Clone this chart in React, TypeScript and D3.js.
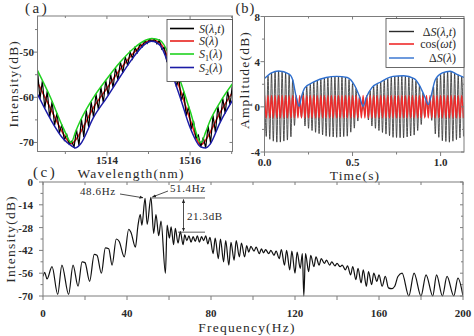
import React from "react";
import * as d3 from "d3";

// ---------- Panel (a) data ----------
const lambdaA = [1512.33, 1512.64, 1512.96, 1513.14, 1513.25, 1513.36, 1513.68, 1514.0, 1514.32, 1514.64, 1514.88, 1515.08, 1515.28, 1515.52, 1515.76, 1516.0, 1516.26, 1516.38, 1516.48, 1516.72, 1517.02];
const s1A = [-54.1, -60.0, -67.0, -70.0, -67.5, -65.2, -60.0, -55.9, -52.2, -49.2, -47.6, -47.0, -47.4, -51.1, -56.3, -63.0, -70.0, -67.6, -65.2, -61.1, -57.0];
const s2A = [-59.3, -64.8, -69.3, -70.7, -71.2, -70.4, -64.4, -60.0, -55.4, -51.1, -48.5, -47.6, -48.5, -53.7, -60.0, -66.7, -71.0, -71.2, -70.4, -65.6, -60.7];
const sA = [-56.7, -62.4, -68.2, -70.3, -69.4, -67.8, -62.2, -58.0, -53.8, -50.2, -48.1, -47.3, -48.0, -52.4, -58.2, -64.9, -70.5, -69.4, -67.8, -63.4, -58.9];
const stripeCountA = 80; // half-cycles of S(λ,t) across the window
const xTicksA = [1513, 1514, 1515, 1516, 1517];
const xLabelsA = [1514, 1516];
const yTicksA = [-45, -50, -55, -60, -65, -70];
const yLabelsA = [-50, -60, -70];

// ---------- Panel (b) data ----------
const envT = [0, 0.04, 0.08, 0.14, 0.16, 0.18, 0.197, 0.21, 0.23, 0.28, 0.35, 0.41, 0.47, 0.515, 0.54, 0.56, 0.58, 0.61, 0.66, 0.73, 0.79, 0.85, 0.88, 0.91, 0.93, 0.945, 0.97, 1.01, 1.055, 1.09, 1.133];
const envV = [2.5, 3.0, 3.17, 2.9, 2.4, 0.9, 0.05, 0.9, 1.7, 2.2, 2.6, 2.7, 2.6, 1.8, 0.9, 0.05, 0.9, 1.7, 2.2, 2.7, 2.75, 2.5, 1.9, 0.9, 0.2, 0.9, 2.4, 3.0, 3.15, 2.9, 2.6];
const carrierHz = 50;
const cosAmp = 1;
const xTicksB = [0, 0.25, 0.5, 0.75, 1.0];
const xLabelsB = ["0.0", "0.5", "1.0"];
const yTicksB = [-4, -2, 0, 2, 4, 6, 8];
const yLabelsB = [-4, 0, 4, 8];

// ---------- Panel (c) data ----------
const specFreq = [0, 0.8, 1.9, 4.3, 7, 9, 12.2, 14.3, 16.7, 18.6, 20, 22.2, 24.4, 25.7, 27.8, 29.7, 31.3, 32.9, 34.9, 36.3, 38.7, 40.8, 41.9, 44, 45.2, 46.3, 47.1, 48.6, 49.6, 51.4, 52.7, 53.8, 55.1, 56.2, 58.3, 59.1, 60.2, 61, 62.2, 63, 64.3, 65.4, 66.7, 67.5, 68.5, 69.5, 70.5, 71.5, 72.5, 73.5, 74.5, 75.5, 76.5, 77.5, 78.5, 79.5, 81, 82, 83.5, 84.5, 86, 87, 88.5, 89.5, 91, 92, 93.5, 94.5, 96, 97, 98, 99, 100.5, 101.5, 103, 104, 105, 106, 107.5, 108.5, 110, 111, 112.5, 113.5, 115, 116, 117.5, 118.5, 120, 121, 122.5, 123.5, 124.2, 125, 126.5, 127.5, 129, 130, 131.5, 132.5, 134, 135, 136.5, 137.5, 139, 140, 141.5, 142.5, 144, 145, 146.5, 147.5, 149, 150, 151.5, 152.5, 154, 155, 156.5, 157.5, 159, 160, 161.5, 163, 164.5, 166, 167.5, 169, 171, 174.2, 176.7, 180, 182.4, 185.6, 187.4, 190.2, 192.4, 195.6, 197.6, 200];
const specDb = [-58, -55.5, -59.5, -52, -69, -51, -69, -51, -64, -49, -49.5, -61, -44.5, -45, -56, -40.5, -41, -51, -35, -36.5, -46, -29, -31, -40, -27, -20, -26.5, -10, -26, -9.5, -31.5, -20, -33, -24, -56, -26.5, -34.5, -27.5, -38.5, -28.5, -37.5, -30.5, -38.5, -32.5, -36, -33, -37, -33.5, -36.5, -33, -37, -33.5, -36, -33, -38, -34, -44, -34.5, -47, -35, -49, -36, -51, -37, -48, -36, -46, -37.5, -46, -39, -43, -39.5, -42.5, -40, -44, -41, -43.5, -41.5, -44, -42, -45, -42.5, -47, -41.5, -51, -42, -54, -42.5, -56, -43, -53, -44, -70, -44, -55, -45, -52, -46, -51, -47, -50, -48, -51, -49, -51.5, -50, -52, -51, -54, -51.5, -57, -52, -60, -53, -62, -54, -64, -55, -63, -56, -61, -57, -64, -58, -65, -65.5, -64, -58, -56, -70, -56, -70, -57, -70, -57, -70, -58, -70, -59, -70];
const xTicksC = [0, 20, 40, 60, 80, 100, 120, 140, 160, 180, 200];
const xLabelsC = [0, 40, 80, 120, 160, 200];
const yTicksC = [0, -7, -14, -21, -28, -35, -42, -49, -56, -63, -70];
const yLabelsC = [0, -14, -28, -42, -56, -70];

// ---------- layout ----------
const A = { l: 37.5, r: 232.5, t: 16, b: 151.5 };
const B = { l: 264.5, r: 464, t: 16.5, b: 152 };
const C = { l: 43, r: 463, t: 182, b: 296 };

const AX = "#7d7d7d";
const TXT = "#2a2a2a";
const TICKFONT = "'Liberation Serif', serif";
const SERIF = "'Liberation Serif', serif";

function interp(xs: number[], ys: number[], x: number) {
  const i = Math.max(1, Math.min(xs.length - 1, d3.bisectLeft(xs, x)));
  const x0 = xs[i - 1], x1 = xs[i];
  const t = (x - x0) / (x1 - x0);
  return ys[i - 1] + t * (ys[i] - ys[i - 1]);
}

function Frame({ box, xs, ys, xTicks, yTicks, xMajor, yMajor }: any) {
  const els: any[] = [];
  xTicks.forEach((v: number, i: number) => {
    const x = xs(v);
    const major = xMajor.includes(v);
    els.push(<line key={"bx" + i} x1={x} x2={x} y1={box.b} y2={box.b + (major ? 4 : 2.5)} stroke={AX} />);
    els.push(<line key={"tx" + i} x1={x} x2={x} y1={box.t} y2={box.t + (major ? 3 : 2)} stroke={AX} />);
  });
  yTicks.forEach((v: number, i: number) => {
    const y = ys(v);
    const major = yMajor.includes(v);
    els.push(<line key={"ly" + i} x1={box.l - (major ? 4 : 2.5)} x2={box.l} y1={y} y2={y} stroke={AX} />);
    els.push(<line key={"ry" + i} x1={box.r - (major ? 3 : 2)} x2={box.r} y1={y} y2={y} stroke={AX} />);
  });
  return (
    <g>
      <rect x={box.l} y={box.t} width={box.r - box.l} height={box.b - box.t} fill="none" stroke={AX} strokeWidth={1} />
      {els}
    </g>
  );
}

export default function App() {
  // scales
  const xA = d3.scaleLinear().domain([1512.33, 1517.02]).range([A.l, A.r]);
  const yA = d3.scaleLinear().domain([-72, -42]).range([A.b, A.t]);
  const xB = d3.scaleLinear().domain([0, 1.133]).range([B.l, B.r]);
  const yB = d3.scaleLinear().domain([-4, 8]).range([B.b, B.t]);
  const xC = d3.scaleLinear().domain([0, 200]).range([C.l, C.r]);
  const yC = d3.scaleLinear().domain([-70, 0]).range([C.b, C.t]);

  // panel a curves
  const lineA = d3.line<number>().x((_, i) => xA(lambdaA[i])).curve(d3.curveMonotoneX);
  const pS1 = lineA.y((v) => yA(v))(s1A) as string;
  const pS2 = lineA.y((v) => yA(v))(s2A) as string;
  const pS = lineA.y((v) => yA(v))(sA) as string;
  const l0 = lambdaA[0], l1 = lambdaA[lambdaA.length - 1];
  const zig: [number, number][] = d3.range(stripeCountA + 1).map((k) => {
    const lam = l0 + ((l1 - l0) * k) / stripeCountA;
    const v = k % 2 === 0 ? interp(lambdaA, s1A, lam) : interp(lambdaA, s2A, lam);
    return [xA(lam), yA(v)];
  });
  const pZig = d3.line().curve(d3.curveLinear)(zig) as string;

  // panel b curves
  const tEnd = envT[envT.length - 1];
  const nHalf = Math.floor(tEnd * carrierHz * 2);
  const blackPts: [number, number][] = d3.range(nHalf + 1).map((k) => {
    const t = k / (carrierHz * 2);
    const e = interp(envT, envV, t);
    return [xB(t), yB(k % 2 === 0 ? e : -e)];
  });
  const redPts: [number, number][] = d3.range(nHalf + 1).map((k) => {
    const t = k / (carrierHz * 2);
    return [xB(t), yB(k % 2 === 0 ? cosAmp : -cosAmp)];
  });
  const pBlackB = d3.line().curve(d3.curveMonotoneX)(blackPts) as string;
  const pRedB = d3.line().curve(d3.curveMonotoneX)(redPts) as string;
  const pEnv = d3.line<number>().x((_, i) => xB(envT[i])).y((v) => yB(v)).curve(d3.curveMonotoneX)(envV) as string;

  // panel c
  const pSpec = d3.line<number>().x((_, i) => xC(specFreq[i])).y((v) => yC(Math.max(-70, v))).curve(d3.curveMonotoneX)(specDb) as string;

  const tickStyle: any = { fontFamily: TICKFONT, fontSize: 11, fontWeight: "bold", fill: TXT };
  const titleStyle: any = { fontFamily: SERIF, fontSize: 13.5, fill: TXT, letterSpacing: 1.2 };
  const legStyle: any = { fontFamily: SERIF, fontSize: 12, fill: TXT };
  const panelStyle: any = { fontFamily: SERIF, fontSize: 15, fill: TXT };
  const annStyle: any = { fontFamily: SERIF, fontSize: 11, fill: TXT, letterSpacing: 0.6 };

  const p48 = [xC(48.6), yC(-10)];
  const p51 = [xC(51.4), yC(-9.5)];
  const yLow = yC(-30.8);

  return (
    <svg width={474} height={336} style={{ position: "absolute", left: 0, top: 0, background: "#fff" }} xmlns="http://www.w3.org/2000/svg">
      <defs>
        <clipPath id="clipA"><rect x={A.l} y={A.t} width={A.r - A.l} height={A.b - A.t} /></clipPath>
        <clipPath id="clipB"><rect x={B.l} y={B.t} width={B.r - B.l} height={B.b - B.t} /></clipPath>
        <clipPath id="clipC"><rect x={C.l} y={C.t} width={C.r - C.l} height={C.b - C.t + 1} /></clipPath>
        <marker id="arr" viewBox="0 0 10 10" refX="9" refY="5" markerWidth="5" markerHeight="5" orient="auto-start-reverse">
          <path d="M0,1 L10,5 L0,9 z" fill="#222" />
        </marker>
      </defs>
      <rect x={0} y={0} width={474} height={336} fill="#fff" />

      {/* ---------------- Panel (a) ---------------- */}
      <g clipPath="url(#clipA)">
        <path d={pS} fill="none" stroke="#e8201c" strokeWidth={1.6} />
        <path d={pZig} fill="none" stroke="#000" strokeWidth={1.2} />
        <path d={pS1} fill="none" stroke="#1fd21f" strokeWidth={1.5} />
        <path d={pS2} fill="none" stroke="#1b1ba6" strokeWidth={1.5} />
      </g>
      <Frame box={A} xs={xA} ys={yA} xTicks={xTicksA} yTicks={yTicksA} xMajor={xLabelsA} yMajor={yLabelsA} />
      {xLabelsA.map((v) => (
        <text key={"xa" + v} x={xA(v)} y={163.5} textAnchor="middle" style={tickStyle}>{v}</text>
      ))}
      {yLabelsA.map((v) => (
        <text key={"ya" + v} x={34} y={yA(v) + 4} textAnchor="end" style={tickStyle}>{v}</text>
      ))}
      <text x={131} y={178} textAnchor="middle" style={titleStyle}>Wavelength(nm)</text>
      <text transform={`translate(18,${(A.t + A.b) / 2}) rotate(-90)`} textAnchor="middle" style={titleStyle}>Intensity(dB)</text>
      <text x={25} y={12.5} style={panelStyle} letterSpacing={2.5}>(a)</text>
      {/* legend a */}
      <rect x={167} y={19.5} width={A.r - 167} height={62} fill="#fff" stroke="#444" strokeWidth={0.8} />
      {[
        { c: "#000", y: 28.5, t: [["S", 1], ["(", 0], ["λ", 1], [",", 0], ["t", 1], [")", 0]] },
        { c: "#e8201c", y: 41, t: [["S", 1], ["(", 0], ["λ", 1], [")", 0]] },
        { c: "#1fd21f", y: 54, t: [["S", 1], ["1", 2], ["(", 0], ["λ", 1], [")", 0]] },
        { c: "#1b1ba6", y: 67.5, t: [["S", 1], ["2", 2], ["(", 0], ["λ", 1], [")", 0]] },
      ].map((e, i) => (
        <g key={"la" + i}>
          <line x1={170} x2={194} y1={e.y} y2={e.y} stroke={e.c} strokeWidth={1.6} />
          <text x={199} y={e.y + 4} style={legStyle}>
            {e.t.map((s: any, j: number) => (
              <tspan key={j} fontStyle={s[1] === 1 ? "italic" : "normal"} fontSize={s[1] === 2 ? 8 : 12} dy={s[1] === 2 ? 3 : (j > 0 && e.t[j - 1][1] === 2 ? -3 : 0)}>{s[0]}</tspan>
            ))}
          </text>
        </g>
      ))}

      {/* ---------------- Panel (b) ---------------- */}
      <g clipPath="url(#clipB)">
        <path d={pBlackB} fill="none" stroke="#2b2b2b" strokeWidth={0.8} />
        <path d={pRedB} fill="none" stroke="#ef2a2a" strokeWidth={1.4} />
        <path d={pEnv} fill="none" stroke="#2f6fce" strokeWidth={1.4} />
      </g>
      <Frame box={B} xs={xB} ys={yB} xTicks={xTicksB} yTicks={yTicksB} xMajor={[0, 0.5, 1.0]} yMajor={yLabelsB} />
      {xLabelsB.map((v) => (
        <text key={"xb" + v} x={xB(+v)} y={166} textAnchor="middle" style={tickStyle}>{v}</text>
      ))}
      {yLabelsB.map((v) => (
        <text key={"yb" + v} x={260} y={yB(v) + 4} textAnchor="end" style={tickStyle}>{v}</text>
      ))}
      <text x={355} y={180} textAnchor="middle" style={titleStyle}>Time(s)</text>
      <text transform={`translate(249,80) rotate(-90)`} textAnchor="middle" style={titleStyle}>Amplitude(dB)</text>
      <text x={235.5} y={12.5} style={{ ...panelStyle, fontSize: 14.5 }} letterSpacing={1}>(b)</text>
      {/* legend b */}
      <rect x={386} y={18.5} width={B.r - 386} height={49} fill="#fff" stroke="#444" strokeWidth={0.8} />
      <line x1={389} x2={414} y1={31.5} y2={31.5} stroke="#2b2b2b" strokeWidth={1.4} />
      <text x={456} y={35.5} textAnchor="end" style={legStyle}>
        Δ<tspan fontStyle="italic">S</tspan>(<tspan fontStyle="italic">λ</tspan>,<tspan fontStyle="italic">t</tspan>)
      </text>
      <line x1={389} x2={414} y1={44} y2={44} stroke="#ef2a2a" strokeWidth={1.6} />
      <text x={456} y={48} textAnchor="end" style={legStyle}>
        cos(<tspan fontStyle="italic">ωt</tspan>)
      </text>
      <line x1={389} x2={414} y1={58} y2={58} stroke="#2f6fce" strokeWidth={1.4} />
      <text x={456} y={62} textAnchor="end" style={legStyle}>
        Δ<tspan fontStyle="italic">S</tspan>(<tspan fontStyle="italic">λ</tspan>)
      </text>

      {/* ---------------- Panel (c) ---------------- */}
      <g clipPath="url(#clipC)">
        <path d={pSpec} fill="none" stroke="#111" strokeWidth={1.2} />
      </g>
      <Frame box={C} xs={xC} ys={yC} xTicks={xTicksC} yTicks={yTicksC} xMajor={xTicksC} yMajor={yLabelsC} />
      {xLabelsC.map((v) => (
        <text key={"xc" + v} x={xC(v)} y={316.5} textAnchor="middle" style={tickStyle}>{v}</text>
      ))}
      {yLabelsC.map((v) => (
        <text key={"yc" + v} x={33} y={yC(v) + 4} textAnchor="end" style={tickStyle}>{v}</text>
      ))}
      <text x={247} y={331.5} textAnchor="middle" style={titleStyle}>Frequency(Hz)</text>
      <text transform={`translate(15,${(C.t + C.b) / 2}) rotate(-90)`} textAnchor="middle" style={titleStyle}>Intensity(dB)</text>
      <text x={33} y={177} style={panelStyle} letterSpacing={2.5}>(c)</text>
      {/* annotations */}
      <text x={80} y={195} style={annStyle}>48.6Hz</text>
      <line x1={120} y1={194} x2={p48[0] - 2} y2={p48[1] - 0.5} stroke="#222" strokeWidth={0.8} markerEnd="url(#arr)" />
      <text x={170} y={192} style={annStyle}>51.4Hz</text>
      <line x1={168} y1={191} x2={p51[0] + 1.5} y2={p51[1] - 0.5} stroke="#222" strokeWidth={0.8} markerEnd="url(#arr)" />
      <line x1={p51[0] + 1} x2={205} y1={p51[1] + 0.5} y2={p51[1] + 0.5} stroke="#333" strokeWidth={0.8} />
      <line x1={178} x2={205} y1={yLow} y2={yLow} stroke="#333" strokeWidth={0.8} />
      <line x1={183.5} x2={183.5} y1={p51[1] + 2} y2={yLow - 1} stroke="#222" strokeWidth={0.8} markerStart="url(#arr)" markerEnd="url(#arr)" />
      <text x={187} y={220} style={annStyle}>21.3dB</text>
    </svg>
  );
}
